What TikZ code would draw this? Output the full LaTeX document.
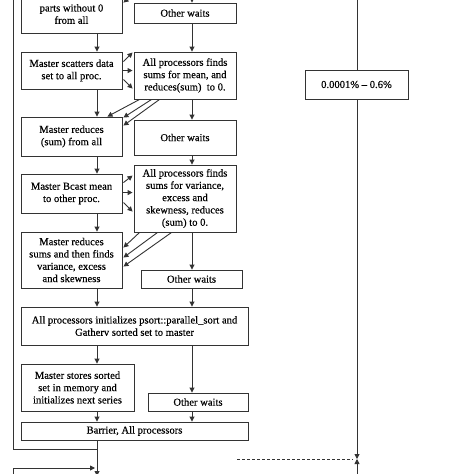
\documentclass[tikz,border=0pt]{standalone}
\usepackage{fontspec}
\setmainfont{Liberation Serif}
\newfontfamily\diafont{Liberation Serif}[FakeBold=0.3,Ligatures=TeX]
\usetikzlibrary{arrows.meta,calc}
\tikzset{
  box/.style={draw=black!80, line width=0.9pt, rectangle, inner sep=1pt, align=center, font=\diafont\fontsize{10.6}{12.3}\selectfont, text=black},
  lbl/.style={inner sep=0pt, align=center, font=\diafont\fontsize{10.6}{12.3}\selectfont, text=black},
  conn/.style={draw=black!80, line width=0.9pt},
  arr/.style={conn, -{Triangle[length=5pt,width=5pt]}},
  dsh/.style={conn, dashed, dash pattern=on 3pt off 2pt}
}
\begin{document}
\begin{tikzpicture}[x=1pt,y=-1pt]
\useasboundingbox (0,0) rectangle (474,474);
\clip (0,0) rectangle (474,474);
\fill[white] (0,0) rectangle (474,474);
\coordinate (L) at (97,0);
\coordinate (R) at (192,0);
% boxes
\node[box, minimum width=101, minimum height=48] (t0) at (71.5,9) {};
\node[lbl] (t0txt) at (71.5,14) {parts without 0\\from all};
\node[box, minimum width=102, minimum height=20] (ow1) at (185,13) {Other waits};
\node[box, minimum width=101, minimum height=37] (msc) at (71.5,70.5) {Master scatters data\\set to all proc.};
\node[box, minimum width=102, minimum height=47] (amean) at (185,75.5) {All processors finds\\sums for mean, and\\reduces(sum)\ \ to 0.};
\node[box, minimum width=101, minimum height=39] (mred) at (71.5,136.5) {Master reduces\\(sum) from all};
\node[box, minimum width=102, minimum height=35] (ow2) at (185,137.5) {Other waits};
\node[box, minimum width=101, minimum height=39] (mbc) at (71.5,193.5) {Master Bcast mean\\to other proc.};
\node[box, minimum width=102, minimum height=67] (avar) at (185,198.5) {All processors finds\\sums for variance,\\excess and\\skewness, reduces\\(sum) to 0.};
\node[box, minimum width=101, minimum height=56] (mred2) at (71.5,260) {Master reduces\\sums and then finds\\variance, excess\\and skewness};
\node[box, minimum width=101, minimum height=18] (ow3) at (191.5,279) {Other waits};
\node[box, minimum width=227, minimum height=38] (allp) at (134.5,326) {All processors initializes psort::parallel\_sort and\\Gatherv sorted set to master};
\node[box, minimum width=113, minimum height=47] (mst) at (77.5,387.5) {Master stores sorted\\set in memory and\\initializes next series};
\node[box, minimum width=100, minimum height=18] (ow4) at (198,402) {Other waits};
\node[box, minimum width=227, minimum height=18] (bar) at (134.5,431) {Barrier, All processors};
\node[box, minimum width=103, minimum height=29] (pct) at (356.5,84.5) {0.0001\% – 0.6\%};
% coordinates for free ends
\coordinate (topin) at (192,-6);
\coordinate (fanin) at (136,-8);
\coordinate (looptop) at (13,-6);
\coordinate (loopc) at (13,449);
\coordinate (loopj) at (97,449);
\coordinate (botout) at (97,476);
\coordinate (bl) at (13,480);
\coordinate (blc) at (13,468);
\coordinate (blj) at (95,468);
\coordinate (rtop) at (357,-6);
\coordinate (rbot) at (357,480);
\coordinate (dashR) at (357,459);
\coordinate (dashL) at (237,459);
% vertical flow
\draw[arr] (topin) -- (ow1.north -| R);
\draw[arr] (fanin) -- ($(t0.north east)+(1,18)$);
\draw[arr] (t0.south -| L) -- (msc.north -| L);
\draw[arr] (ow1.south -| R) -- (amean.north -| R);
\draw[arr] (msc.south -| L) -- (mred.north -| L);
\draw[arr] (amean.south -| R) -- (ow2.north -| R);
\draw[arr] (mred.south -| L) -- (mbc.north -| L);
\draw[arr] (ow2.south -| R) -- (avar.north -| R);
\draw[arr] (mbc.south -| L) -- (mred2.north -| L);
\draw[arr] (avar.south -| R) -- (ow3.north -| R);
\draw[arr] (mred2.south -| L) -- (allp.north -| L);
\draw[arr] (ow3.south -| R) -- (allp.north -| R);
\draw[arr] (allp.south -| L) -- (mst.north -| L);
\draw[arr] (allp.south -| R) -- (ow4.north -| R);
\draw[arr] (mst.south -| L) -- (bar.north -| L);
\draw[arr] (ow4.south -| R) -- (bar.north -| R);
\draw[arr] (bar.south -| L) -- (botout);
% fans
\draw[arr] ($(msc.north east)+(1,10)$) -- ($(amean.north west)+(-1,1)$);
\draw[arr] ($(msc.north east)+(1,19)$) -- ($(amean.north west)+(-1,19)$);
\draw[arr] ($(msc.north east)+(1,28)$) -- ($(amean.north west)+(-1,37)$);
\draw[arr] ($(amean.south west)+(6,0)$) -- ($(mred.north east)+(-15,0)$);
\draw[arr] ($(amean.south west)+(18,0)$) -- ($(mred.north east)+(1,1)$);
\draw[arr] ($(amean.south west)+(26,0)$) -- ($(mred.north east)+(1,9)$);
\draw[arr] ($(mbc.north east)+(1,9)$) -- ($(avar.north west)+(-1,11)$);
\draw[arr] ($(mbc.north east)+(1,19)$) -- ($(avar.north west)+(-1,28)$);
\draw[arr] ($(mbc.north east)+(1,29)$) -- ($(avar.north west)+(-1,47)$);
\draw[arr] ($(avar.south west)+(6,0)$) -- ($(mred2.north east)+(1,16)$);
\draw[arr] ($(avar.south west)+(24,0)$) -- ($(mred2.north east)+(1,26)$);
\draw[arr] ($(avar.south west)+(38,0)$) -- ($(mred2.north east)+(1,35)$);
% loop
\draw[conn] (looptop) -- (loopc) -- (loopj);
\draw[arr] (bl) -- (blc) -- (blj);
% right line
\draw[conn] (rtop) -- (pct.north -| rtop);
\draw[arr] (pct.south -| rtop) -- (dashR);
\draw[arr] (rbot) -- (dashR);
\draw[dsh] (dashL) -- ([xshift=-4pt]dashR);
\end{tikzpicture}
\end{document}
